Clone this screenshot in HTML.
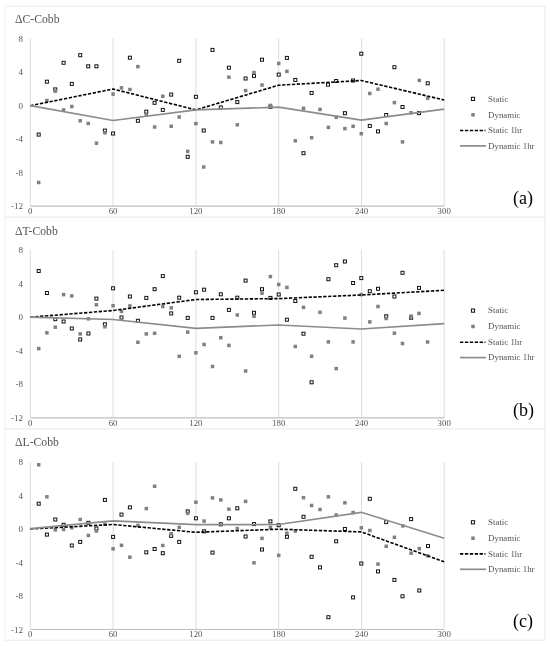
<!DOCTYPE html>
<html><head><meta charset="utf-8"><title>Cobb</title>
<style>
html,body{margin:0;padding:0;background:#fff;}
svg{display:block;}
text{font-family:"Liberation Serif","Times New Roman",serif;}
.t{font-size:11.7px;fill:#555;}
.yl{font-size:9px;fill:#555;text-anchor:end;}
.xl{font-size:8.8px;fill:#555;text-anchor:middle;}
.lg{font-size:8.85px;fill:#555;}
.lab{font-size:18px;fill:#000;}
.gl{stroke:#d9d9d9;stroke-width:0.9;}
.bd{stroke:#e8e8e8;stroke-width:1;}
.ax{stroke:#bfbfbf;stroke-width:1.2;}
.s{fill:#fff;stroke:#111;stroke-width:1;}
.d{fill:#808080;}
.sl{fill:none;stroke:#000;stroke-width:1.6;stroke-dasharray:3.3 1.6;}
.dl{fill:none;stroke:#8c8c8c;stroke-width:1.7;}
</style></head>
<body>
<svg width="550" height="646" viewBox="0 0 550 646">
<line x1="5" y1="6" x2="545.5" y2="6" class="bd"/>
<line x1="5" y1="6" x2="5" y2="640.2" stroke="#f0f0f0" stroke-width="1"/>
<line x1="545" y1="6" x2="545" y2="640.2" class="bd"/>
<line x1="5" y1="640.2" x2="545.5" y2="640.2" class="bd"/>
<line x1="5" y1="217.1" x2="545.5" y2="217.1" class="bd"/>
<line x1="5" y1="428.9" x2="545.5" y2="428.9" class="bd"/>
<text x="15" y="23" class="t">ΔC-Cobb</text>
<line x1="113.1" y1="38.5" x2="113.1" y2="206.1" class="gl"/>
<line x1="195.9" y1="38.5" x2="195.9" y2="206.1" class="gl"/>
<line x1="278.7" y1="38.5" x2="278.7" y2="206.1" class="gl"/>
<line x1="361.5" y1="38.5" x2="361.5" y2="206.1" class="gl"/>
<line x1="444.2" y1="38.5" x2="444.2" y2="206.1" class="gl"/>
<line x1="30.3" y1="38.5" x2="30.3" y2="206.1" class="gl"/>
<line x1="30.3" y1="206.1" x2="444.2" y2="206.1" class="ax"/>
<text x="23" y="41.6" class="yl">8</text>
<text x="23" y="75.12" class="yl">4</text>
<text x="23" y="108.64" class="yl">0</text>
<text x="23" y="142.16" class="yl">-4</text>
<text x="23" y="175.68" class="yl">-8</text>
<text x="23" y="209.2" class="yl">-12</text>
<text x="30.3" y="213.9" class="xl">0</text>
<text x="113.1" y="213.9" class="xl">60</text>
<text x="195.9" y="213.9" class="xl">120</text>
<text x="278.7" y="213.9" class="xl">180</text>
<text x="361.5" y="213.9" class="xl">240</text>
<text x="444.2" y="213.9" class="xl">300</text>
<rect x="45.4" y="80.2" width="3" height="3" class="s"/>
<rect x="53.8" y="87.9" width="3" height="3" class="s"/>
<rect x="62.1" y="61.3" width="3" height="3" class="s"/>
<rect x="78.7" y="53.7" width="3" height="3" class="s"/>
<rect x="86.7" y="64.8" width="3" height="3" class="s"/>
<rect x="94.9" y="64.8" width="3" height="3" class="s"/>
<rect x="70.3" y="82.4" width="3" height="3" class="s"/>
<rect x="37.2" y="133.1" width="3" height="3" class="s"/>
<rect x="103.4" y="129.1" width="3" height="3" class="s"/>
<rect x="111.6" y="132" width="3" height="3" class="s"/>
<rect x="128.4" y="56.2" width="3" height="3" class="s"/>
<rect x="177.7" y="59.3" width="3" height="3" class="s"/>
<rect x="211" y="48.4" width="3" height="3" class="s"/>
<rect x="169.7" y="93.1" width="3" height="3" class="s"/>
<rect x="194.4" y="95.3" width="3" height="3" class="s"/>
<rect x="153.1" y="101.3" width="3" height="3" class="s"/>
<rect x="161.3" y="108.4" width="3" height="3" class="s"/>
<rect x="144.8" y="110.2" width="3" height="3" class="s"/>
<rect x="136.4" y="119.3" width="3" height="3" class="s"/>
<rect x="219.3" y="105.9" width="3" height="3" class="s"/>
<rect x="202.2" y="129" width="3" height="3" class="s"/>
<rect x="186.2" y="155.3" width="3" height="3" class="s"/>
<rect x="227.4" y="66.2" width="3" height="3" class="s"/>
<rect x="260.5" y="58.2" width="3" height="3" class="s"/>
<rect x="285.4" y="56.4" width="3" height="3" class="s"/>
<rect x="244.1" y="77" width="3" height="3" class="s"/>
<rect x="252.5" y="74.4" width="3" height="3" class="s"/>
<rect x="277.2" y="73.1" width="3" height="3" class="s"/>
<rect x="293.8" y="78.4" width="3" height="3" class="s"/>
<rect x="310.1" y="91.5" width="3" height="3" class="s"/>
<rect x="235.8" y="100.6" width="3" height="3" class="s"/>
<rect x="268.9" y="105.3" width="3" height="3" class="s"/>
<rect x="302" y="151.7" width="3" height="3" class="s"/>
<rect x="359.8" y="52.2" width="3" height="3" class="s"/>
<rect x="392.9" y="65.7" width="3" height="3" class="s"/>
<rect x="326.5" y="83.1" width="3" height="3" class="s"/>
<rect x="334.7" y="79.5" width="3" height="3" class="s"/>
<rect x="351.6" y="79" width="3" height="3" class="s"/>
<rect x="343.4" y="111.7" width="3" height="3" class="s"/>
<rect x="384.7" y="113.5" width="3" height="3" class="s"/>
<rect x="401" y="105.5" width="3" height="3" class="s"/>
<rect x="368.3" y="124.4" width="3" height="3" class="s"/>
<rect x="376.5" y="129.9" width="3" height="3" class="s"/>
<rect x="426.2" y="81.8" width="3" height="3" class="s"/>
<rect x="417.5" y="111.6" width="3" height="3" class="s"/>
<rect x="36.95" y="180.75" width="3.5" height="3.5" class="d"/>
<rect x="45.15" y="98.75" width="3.5" height="3.5" class="d"/>
<rect x="53.55" y="89.45" width="3.5" height="3.5" class="d"/>
<rect x="61.85" y="108.15" width="3.5" height="3.5" class="d"/>
<rect x="70.05" y="104.75" width="3.5" height="3.5" class="d"/>
<rect x="78.45" y="119.05" width="3.5" height="3.5" class="d"/>
<rect x="86.45" y="121.75" width="3.5" height="3.5" class="d"/>
<rect x="94.75" y="141.45" width="3.5" height="3.5" class="d"/>
<rect x="103.15" y="131.05" width="3.5" height="3.5" class="d"/>
<rect x="111.35" y="92.35" width="3.5" height="3.5" class="d"/>
<rect x="119.75" y="86.15" width="3.5" height="3.5" class="d"/>
<rect x="128.15" y="87.75" width="3.5" height="3.5" class="d"/>
<rect x="136.15" y="64.85" width="3.5" height="3.5" class="d"/>
<rect x="144.55" y="113.25" width="3.5" height="3.5" class="d"/>
<rect x="152.85" y="125.25" width="3.5" height="3.5" class="d"/>
<rect x="161.05" y="94.55" width="3.5" height="3.5" class="d"/>
<rect x="169.45" y="124.55" width="3.5" height="3.5" class="d"/>
<rect x="177.45" y="115.25" width="3.5" height="3.5" class="d"/>
<rect x="185.95" y="149.65" width="3.5" height="3.5" class="d"/>
<rect x="194.15" y="121.85" width="3.5" height="3.5" class="d"/>
<rect x="201.95" y="165.25" width="3.5" height="3.5" class="d"/>
<rect x="210.75" y="140.15" width="3.5" height="3.5" class="d"/>
<rect x="219.05" y="140.75" width="3.5" height="3.5" class="d"/>
<rect x="227.15" y="75.45" width="3.5" height="3.5" class="d"/>
<rect x="235.55" y="123.05" width="3.5" height="3.5" class="d"/>
<rect x="243.85" y="88.85" width="3.5" height="3.5" class="d"/>
<rect x="252.25" y="70.85" width="3.5" height="3.5" class="d"/>
<rect x="260.25" y="83.25" width="3.5" height="3.5" class="d"/>
<rect x="268.65" y="103.65" width="3.5" height="3.5" class="d"/>
<rect x="276.95" y="61.65" width="3.5" height="3.5" class="d"/>
<rect x="285.15" y="69.65" width="3.5" height="3.5" class="d"/>
<rect x="293.55" y="139.05" width="3.5" height="3.5" class="d"/>
<rect x="301.75" y="106.55" width="3.5" height="3.5" class="d"/>
<rect x="309.85" y="135.95" width="3.5" height="3.5" class="d"/>
<rect x="318.25" y="107.65" width="3.5" height="3.5" class="d"/>
<rect x="326.65" y="125.65" width="3.5" height="3.5" class="d"/>
<rect x="334.45" y="115.55" width="3.5" height="3.5" class="d"/>
<rect x="343.15" y="126.85" width="3.5" height="3.5" class="d"/>
<rect x="351.35" y="124.55" width="3.5" height="3.5" class="d"/>
<rect x="359.55" y="131.95" width="3.5" height="3.5" class="d"/>
<rect x="368.05" y="91.75" width="3.5" height="3.5" class="d"/>
<rect x="376.25" y="87.45" width="3.5" height="3.5" class="d"/>
<rect x="384.45" y="121.75" width="3.5" height="3.5" class="d"/>
<rect x="392.65" y="100.85" width="3.5" height="3.5" class="d"/>
<rect x="400.75" y="140.15" width="3.5" height="3.5" class="d"/>
<rect x="409.25" y="111.05" width="3.5" height="3.5" class="d"/>
<rect x="417.55" y="78.65" width="3.5" height="3.5" class="d"/>
<rect x="425.95" y="96.55" width="3.5" height="3.5" class="d"/>
<polyline points="30.3,105.7 113.1,89 195.9,109.9 278.7,85.2 361.3,80.5 444.2,100" class="sl"/>
<polyline points="30.3,105.7 113.1,120.5 195.9,109.9 278.7,107.2 361.3,120.1 444.2,109.2" class="dl"/>
<rect x="471.4" y="97.3" width="3.2" height="3.2" class="s"/>
<rect x="471.25" y="113.05" width="3.5" height="3.5" class="d"/>
<line x1="460" y1="130.5" x2="485.5" y2="130.5" class="sl"/>
<line x1="460" y1="145.9" x2="486" y2="145.9" class="dl"/>
<text x="488.1" y="101.7" class="lg">Static</text>
<text x="488.1" y="117.6" class="lg">Dynamic</text>
<text x="488.1" y="133.3" class="lg">Static 1hr</text>
<text x="488.1" y="148.7" class="lg">Dynamic 1hr</text>
<text x="513" y="203.8" class="lab">(a)</text>
<text x="15" y="234.7" class="t">ΔT-Cobb</text>
<line x1="113.1" y1="250.2" x2="113.1" y2="417.8" class="gl"/>
<line x1="195.9" y1="250.2" x2="195.9" y2="417.8" class="gl"/>
<line x1="278.7" y1="250.2" x2="278.7" y2="417.8" class="gl"/>
<line x1="361.5" y1="250.2" x2="361.5" y2="417.8" class="gl"/>
<line x1="444.2" y1="250.2" x2="444.2" y2="417.8" class="gl"/>
<line x1="30.3" y1="250.2" x2="30.3" y2="417.8" class="gl"/>
<line x1="30.3" y1="417.8" x2="444.2" y2="417.8" class="ax"/>
<text x="23" y="253.3" class="yl">8</text>
<text x="23" y="286.82" class="yl">4</text>
<text x="23" y="320.34" class="yl">0</text>
<text x="23" y="353.86" class="yl">-4</text>
<text x="23" y="387.38" class="yl">-8</text>
<text x="23" y="420.9" class="yl">-12</text>
<text x="30.3" y="425.6" class="xl">0</text>
<text x="113.1" y="425.6" class="xl">60</text>
<text x="195.9" y="425.6" class="xl">120</text>
<text x="278.7" y="425.6" class="xl">180</text>
<text x="361.5" y="425.6" class="xl">240</text>
<text x="444.2" y="425.6" class="xl">300</text>
<rect x="37.2" y="269.5" width="3" height="3" class="s"/>
<rect x="45.4" y="291.5" width="3" height="3" class="s"/>
<rect x="53.8" y="317.7" width="3" height="3" class="s"/>
<rect x="62.1" y="320" width="3" height="3" class="s"/>
<rect x="70.3" y="327" width="3" height="3" class="s"/>
<rect x="78.7" y="338" width="3" height="3" class="s"/>
<rect x="86.9" y="332" width="3" height="3" class="s"/>
<rect x="94.9" y="297.1" width="3" height="3" class="s"/>
<rect x="103.4" y="322.8" width="3" height="3" class="s"/>
<rect x="111.6" y="286.8" width="3" height="3" class="s"/>
<rect x="120" y="316" width="3" height="3" class="s"/>
<rect x="128.4" y="295" width="3" height="3" class="s"/>
<rect x="136.4" y="319.3" width="3" height="3" class="s"/>
<rect x="144.8" y="296.4" width="3" height="3" class="s"/>
<rect x="153.1" y="287.7" width="3" height="3" class="s"/>
<rect x="161.3" y="274.6" width="3" height="3" class="s"/>
<rect x="169.7" y="311.9" width="3" height="3" class="s"/>
<rect x="177.7" y="296.2" width="3" height="3" class="s"/>
<rect x="186.2" y="316.4" width="3" height="3" class="s"/>
<rect x="194.4" y="290.8" width="3" height="3" class="s"/>
<rect x="202.6" y="288.2" width="3" height="3" class="s"/>
<rect x="211" y="316.4" width="3" height="3" class="s"/>
<rect x="219.3" y="292.8" width="3" height="3" class="s"/>
<rect x="227.4" y="308.4" width="3" height="3" class="s"/>
<rect x="235.8" y="296.2" width="3" height="3" class="s"/>
<rect x="244.1" y="279.1" width="3" height="3" class="s"/>
<rect x="252.5" y="311.3" width="3" height="3" class="s"/>
<rect x="260.5" y="287.7" width="3" height="3" class="s"/>
<rect x="268.9" y="296.4" width="3" height="3" class="s"/>
<rect x="277.2" y="293" width="3" height="3" class="s"/>
<rect x="285.4" y="318.2" width="3" height="3" class="s"/>
<rect x="293.8" y="299.5" width="3" height="3" class="s"/>
<rect x="302" y="332.2" width="3" height="3" class="s"/>
<rect x="310.1" y="380.8" width="3" height="3" class="s"/>
<rect x="326.9" y="277.7" width="3" height="3" class="s"/>
<rect x="334.7" y="263.7" width="3" height="3" class="s"/>
<rect x="343.4" y="260" width="3" height="3" class="s"/>
<rect x="351.6" y="281.5" width="3" height="3" class="s"/>
<rect x="359.8" y="276.6" width="3" height="3" class="s"/>
<rect x="368.3" y="289.7" width="3" height="3" class="s"/>
<rect x="376.5" y="287.3" width="3" height="3" class="s"/>
<rect x="384.7" y="314.8" width="3" height="3" class="s"/>
<rect x="392.9" y="295" width="3" height="3" class="s"/>
<rect x="401" y="271.3" width="3" height="3" class="s"/>
<rect x="409.6" y="316.2" width="3" height="3" class="s"/>
<rect x="417.5" y="286.4" width="3" height="3" class="s"/>
<rect x="36.95" y="346.85" width="3.5" height="3.5" class="d"/>
<rect x="45.15" y="331.05" width="3.5" height="3.5" class="d"/>
<rect x="53.55" y="325.45" width="3.5" height="3.5" class="d"/>
<rect x="61.85" y="292.85" width="3.5" height="3.5" class="d"/>
<rect x="70.05" y="294.15" width="3.5" height="3.5" class="d"/>
<rect x="78.45" y="332.15" width="3.5" height="3.5" class="d"/>
<rect x="86.65" y="317.05" width="3.5" height="3.5" class="d"/>
<rect x="94.65" y="303.05" width="3.5" height="3.5" class="d"/>
<rect x="103.15" y="325.05" width="3.5" height="3.5" class="d"/>
<rect x="111.35" y="303.95" width="3.5" height="3.5" class="d"/>
<rect x="119.75" y="309.65" width="3.5" height="3.5" class="d"/>
<rect x="128.15" y="304.15" width="3.5" height="3.5" class="d"/>
<rect x="136.15" y="340.55" width="3.5" height="3.5" class="d"/>
<rect x="144.55" y="332.15" width="3.5" height="3.5" class="d"/>
<rect x="152.85" y="331.55" width="3.5" height="3.5" class="d"/>
<rect x="161.05" y="304.75" width="3.5" height="3.5" class="d"/>
<rect x="169.45" y="306.15" width="3.5" height="3.5" class="d"/>
<rect x="177.45" y="354.55" width="3.5" height="3.5" class="d"/>
<rect x="185.95" y="330.35" width="3.5" height="3.5" class="d"/>
<rect x="194.15" y="351.05" width="3.5" height="3.5" class="d"/>
<rect x="202.35" y="342.75" width="3.5" height="3.5" class="d"/>
<rect x="210.75" y="364.75" width="3.5" height="3.5" class="d"/>
<rect x="219.05" y="335.95" width="3.5" height="3.5" class="d"/>
<rect x="227.15" y="343.65" width="3.5" height="3.5" class="d"/>
<rect x="235.55" y="313.25" width="3.5" height="3.5" class="d"/>
<rect x="243.85" y="369.25" width="3.5" height="3.5" class="d"/>
<rect x="252.25" y="314.55" width="3.5" height="3.5" class="d"/>
<rect x="260.25" y="291.45" width="3.5" height="3.5" class="d"/>
<rect x="268.65" y="274.85" width="3.5" height="3.5" class="d"/>
<rect x="276.95" y="282.75" width="3.5" height="3.5" class="d"/>
<rect x="285.15" y="285.65" width="3.5" height="3.5" class="d"/>
<rect x="293.55" y="344.75" width="3.5" height="3.5" class="d"/>
<rect x="301.75" y="305.65" width="3.5" height="3.5" class="d"/>
<rect x="309.85" y="354.55" width="3.5" height="3.5" class="d"/>
<rect x="318.25" y="310.55" width="3.5" height="3.5" class="d"/>
<rect x="326.65" y="340.15" width="3.5" height="3.5" class="d"/>
<rect x="334.45" y="366.85" width="3.5" height="3.5" class="d"/>
<rect x="343.15" y="316.35" width="3.5" height="3.5" class="d"/>
<rect x="351.35" y="340.15" width="3.5" height="3.5" class="d"/>
<rect x="359.55" y="292.85" width="3.5" height="3.5" class="d"/>
<rect x="368.05" y="320.15" width="3.5" height="3.5" class="d"/>
<rect x="376.25" y="304.75" width="3.5" height="3.5" class="d"/>
<rect x="384.45" y="316.75" width="3.5" height="3.5" class="d"/>
<rect x="392.65" y="331.45" width="3.5" height="3.5" class="d"/>
<rect x="400.75" y="341.75" width="3.5" height="3.5" class="d"/>
<rect x="409.35" y="314.35" width="3.5" height="3.5" class="d"/>
<rect x="417.25" y="311.65" width="3.5" height="3.5" class="d"/>
<rect x="425.85" y="340.25" width="3.5" height="3.5" class="d"/>
<polyline points="30.3,317.2 113.1,310.5 195.9,299.5 278.7,298.6 361.3,295 444.2,290.3" class="sl"/>
<polyline points="30.3,317.2 113.1,319.5 195.9,328.3 278.7,325 361.3,329 444.2,323.7" class="dl"/>
<rect x="471.4" y="309" width="3.2" height="3.2" class="s"/>
<rect x="471.25" y="324.75" width="3.5" height="3.5" class="d"/>
<line x1="460" y1="342.2" x2="485.5" y2="342.2" class="sl"/>
<line x1="460" y1="357.6" x2="486" y2="357.6" class="dl"/>
<text x="488.1" y="313.4" class="lg">Static</text>
<text x="488.1" y="329.3" class="lg">Dynamic</text>
<text x="488.1" y="345" class="lg">Static 1hr</text>
<text x="488.1" y="360.4" class="lg">Dynamic 1hr</text>
<text x="513" y="415.5" class="lab">(b)</text>
<text x="15" y="446.4" class="t">ΔL-Cobb</text>
<line x1="113.1" y1="461.9" x2="113.1" y2="629.5" class="gl"/>
<line x1="195.9" y1="461.9" x2="195.9" y2="629.5" class="gl"/>
<line x1="278.7" y1="461.9" x2="278.7" y2="629.5" class="gl"/>
<line x1="361.5" y1="461.9" x2="361.5" y2="629.5" class="gl"/>
<line x1="444.2" y1="461.9" x2="444.2" y2="629.5" class="gl"/>
<line x1="30.3" y1="461.9" x2="30.3" y2="629.5" class="gl"/>
<line x1="30.3" y1="629.5" x2="444.2" y2="629.5" class="ax"/>
<text x="23" y="465" class="yl">8</text>
<text x="23" y="498.52" class="yl">4</text>
<text x="23" y="532.04" class="yl">0</text>
<text x="23" y="565.56" class="yl">-4</text>
<text x="23" y="599.08" class="yl">-8</text>
<text x="23" y="632.6" class="yl">-12</text>
<text x="30.3" y="637.3" class="xl">0</text>
<text x="113.1" y="637.3" class="xl">60</text>
<text x="195.9" y="637.3" class="xl">120</text>
<text x="278.7" y="637.3" class="xl">180</text>
<text x="361.5" y="637.3" class="xl">240</text>
<text x="444.2" y="637.3" class="xl">300</text>
<rect x="37.2" y="502.2" width="3" height="3" class="s"/>
<rect x="45.4" y="533.1" width="3" height="3" class="s"/>
<rect x="53.8" y="518" width="3" height="3" class="s"/>
<rect x="62.1" y="523.3" width="3" height="3" class="s"/>
<rect x="70.3" y="544" width="3" height="3" class="s"/>
<rect x="78.7" y="540.4" width="3" height="3" class="s"/>
<rect x="86.9" y="521.3" width="3" height="3" class="s"/>
<rect x="94.9" y="527" width="3" height="3" class="s"/>
<rect x="103.4" y="498.4" width="3" height="3" class="s"/>
<rect x="111.6" y="535.4" width="3" height="3" class="s"/>
<rect x="120" y="513.1" width="3" height="3" class="s"/>
<rect x="128.4" y="505.9" width="3" height="3" class="s"/>
<rect x="144.8" y="550.8" width="3" height="3" class="s"/>
<rect x="153.1" y="547.5" width="3" height="3" class="s"/>
<rect x="161.3" y="551.7" width="3" height="3" class="s"/>
<rect x="169.7" y="534.4" width="3" height="3" class="s"/>
<rect x="177.7" y="540.4" width="3" height="3" class="s"/>
<rect x="186.2" y="509.9" width="3" height="3" class="s"/>
<rect x="194.4" y="516.8" width="3" height="3" class="s"/>
<rect x="202.6" y="529.8" width="3" height="3" class="s"/>
<rect x="211" y="551.1" width="3" height="3" class="s"/>
<rect x="219.3" y="522.8" width="3" height="3" class="s"/>
<rect x="227.4" y="516.8" width="3" height="3" class="s"/>
<rect x="235.8" y="506.8" width="3" height="3" class="s"/>
<rect x="244.1" y="535" width="3" height="3" class="s"/>
<rect x="252.5" y="522.6" width="3" height="3" class="s"/>
<rect x="260.5" y="548" width="3" height="3" class="s"/>
<rect x="268.9" y="519.9" width="3" height="3" class="s"/>
<rect x="277.2" y="523.7" width="3" height="3" class="s"/>
<rect x="285.4" y="535.3" width="3" height="3" class="s"/>
<rect x="293.8" y="487.3" width="3" height="3" class="s"/>
<rect x="302" y="515.3" width="3" height="3" class="s"/>
<rect x="310.1" y="555.3" width="3" height="3" class="s"/>
<rect x="318.5" y="565.9" width="3" height="3" class="s"/>
<rect x="326.9" y="615.7" width="3" height="3" class="s"/>
<rect x="334.7" y="539.8" width="3" height="3" class="s"/>
<rect x="343.4" y="527.5" width="3" height="3" class="s"/>
<rect x="351.6" y="595.9" width="3" height="3" class="s"/>
<rect x="359.8" y="562" width="3" height="3" class="s"/>
<rect x="368.3" y="497.3" width="3" height="3" class="s"/>
<rect x="376.5" y="569.9" width="3" height="3" class="s"/>
<rect x="384.7" y="520.6" width="3" height="3" class="s"/>
<rect x="392.9" y="578.4" width="3" height="3" class="s"/>
<rect x="401" y="594.8" width="3" height="3" class="s"/>
<rect x="409.6" y="517.6" width="3" height="3" class="s"/>
<rect x="417.8" y="589" width="3" height="3" class="s"/>
<rect x="426.5" y="544.6" width="3" height="3" class="s"/>
<rect x="36.95" y="463.05" width="3.5" height="3.5" class="d"/>
<rect x="45.15" y="495.05" width="3.5" height="3.5" class="d"/>
<rect x="53.55" y="528.15" width="3.5" height="3.5" class="d"/>
<rect x="61.85" y="527.75" width="3.5" height="3.5" class="d"/>
<rect x="70.05" y="525.95" width="3.5" height="3.5" class="d"/>
<rect x="78.45" y="517.75" width="3.5" height="3.5" class="d"/>
<rect x="86.65" y="533.65" width="3.5" height="3.5" class="d"/>
<rect x="94.65" y="529.25" width="3.5" height="3.5" class="d"/>
<rect x="103.15" y="522.35" width="3.5" height="3.5" class="d"/>
<rect x="111.35" y="547.05" width="3.5" height="3.5" class="d"/>
<rect x="119.75" y="543.55" width="3.5" height="3.5" class="d"/>
<rect x="128.15" y="555.45" width="3.5" height="3.5" class="d"/>
<rect x="136.15" y="523.65" width="3.5" height="3.5" class="d"/>
<rect x="144.55" y="506.85" width="3.5" height="3.5" class="d"/>
<rect x="152.85" y="484.55" width="3.5" height="3.5" class="d"/>
<rect x="161.05" y="543.75" width="3.5" height="3.5" class="d"/>
<rect x="169.45" y="531.95" width="3.5" height="3.5" class="d"/>
<rect x="177.45" y="525.65" width="3.5" height="3.5" class="d"/>
<rect x="185.95" y="511.55" width="3.5" height="3.5" class="d"/>
<rect x="194.15" y="500.45" width="3.5" height="3.5" class="d"/>
<rect x="202.35" y="519.35" width="3.5" height="3.5" class="d"/>
<rect x="210.75" y="496.15" width="3.5" height="3.5" class="d"/>
<rect x="219.05" y="498.15" width="3.5" height="3.5" class="d"/>
<rect x="227.15" y="507.45" width="3.5" height="3.5" class="d"/>
<rect x="235.55" y="526.85" width="3.5" height="3.5" class="d"/>
<rect x="243.85" y="499.65" width="3.5" height="3.5" class="d"/>
<rect x="252.25" y="561.05" width="3.5" height="3.5" class="d"/>
<rect x="260.25" y="536.65" width="3.5" height="3.5" class="d"/>
<rect x="268.65" y="525.65" width="3.5" height="3.5" class="d"/>
<rect x="276.95" y="553.65" width="3.5" height="3.5" class="d"/>
<rect x="285.15" y="531.45" width="3.5" height="3.5" class="d"/>
<rect x="293.55" y="529.25" width="3.5" height="3.5" class="d"/>
<rect x="301.75" y="495.95" width="3.5" height="3.5" class="d"/>
<rect x="309.85" y="503.75" width="3.5" height="3.5" class="d"/>
<rect x="318.25" y="507.75" width="3.5" height="3.5" class="d"/>
<rect x="326.65" y="495.05" width="3.5" height="3.5" class="d"/>
<rect x="334.45" y="513.25" width="3.5" height="3.5" class="d"/>
<rect x="343.15" y="501.05" width="3.5" height="3.5" class="d"/>
<rect x="351.35" y="510.75" width="3.5" height="3.5" class="d"/>
<rect x="359.55" y="526.15" width="3.5" height="3.5" class="d"/>
<rect x="368.05" y="528.75" width="3.5" height="3.5" class="d"/>
<rect x="376.25" y="562.35" width="3.5" height="3.5" class="d"/>
<rect x="384.45" y="544.55" width="3.5" height="3.5" class="d"/>
<rect x="392.65" y="535.55" width="3.5" height="3.5" class="d"/>
<rect x="401.05" y="524.15" width="3.5" height="3.5" class="d"/>
<rect x="409.35" y="551.45" width="3.5" height="3.5" class="d"/>
<rect x="417.55" y="546.85" width="3.5" height="3.5" class="d"/>
<rect x="425.85" y="554.05" width="3.5" height="3.5" class="d"/>
<polyline points="30.3,529 113.1,524.5 195.9,532.3 278.7,529.2 361.3,531.9 444.2,561.8" class="sl"/>
<polyline points="30.3,528.6 113.1,520.8 195.9,524.6 278.7,524.5 361.3,512.3 444.2,538.3" class="dl"/>
<rect x="471.4" y="520.7" width="3.2" height="3.2" class="s"/>
<rect x="471.25" y="536.45" width="3.5" height="3.5" class="d"/>
<line x1="460" y1="553.9" x2="485.5" y2="553.9" class="sl"/>
<line x1="460" y1="569.3" x2="486" y2="569.3" class="dl"/>
<text x="488.1" y="525.1" class="lg">Static</text>
<text x="488.1" y="541" class="lg">Dynamic</text>
<text x="488.1" y="556.7" class="lg">Static 1hr</text>
<text x="488.1" y="572.1" class="lg">Dynamic 1hr</text>
<text x="513" y="627.2" class="lab">(c)</text>
</svg>
</body></html>
